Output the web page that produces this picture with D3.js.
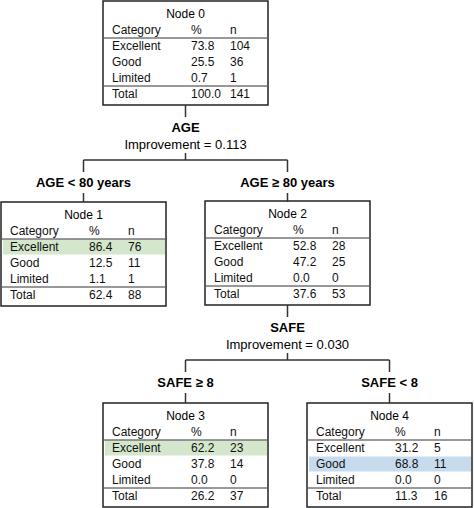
<!DOCTYPE html>
<html><head><meta charset="utf-8">
<script src="https://cdn.jsdelivr.net/npm/d3@7"></script>
<style>body{margin:0;background:#fff}text{font-family:"Liberation Sans",Arial,sans-serif}</style>
</head><body><svg id="c" width="474" height="508"></svg>
<script>
const categories = ["Excellent", "Good", "Limited"];
const nodeNames = ["Node 0", "Node 1", "Node 2", "Node 3", "Node 4"];
const pctValues = [[73.8, 25.5, 0.7], [86.4, 12.5, 1.1], [52.8, 47.2, 0.0], [62.2, 37.8, 0.0], [31.2, 68.8, 0.0]];
const nValues = [[104, 36, 1], [76, 11, 1], [28, 25, 0], [23, 14, 0], [5, 11, 0]];
const totalPct = ["100.0", "62.4", "37.6", "26.2", "11.3"];
const totalN = [141, 88, 53, 37, 16];
const highlight = [null, "Excellent", null, "Excellent", "Good"]; // predicted category
const splits = [
  {parent: 0, name: "AGE", improvement: "0.113", left: 1, right: 2, leftLabel: "AGE < 80 years", rightLabel: "AGE \u2265 80 years"},
  {parent: 2, name: "SAFE", improvement: "0.030", left: 3, right: 4, leftLabel: "SAFE \u2265 8", rightLabel: "SAFE < 8"}
];
const boxPos = [[103, 1], [1, 202], [205, 201], [103, 403], [307, 403]];
const W = 165, H = 104;

const svg = d3.select("#c");
const rowY = d3.scalePoint().domain(["title", "head", ...categories, "Total"]).range([13, 93]);
const colX = d3.scaleOrdinal().domain(["cat", "pct", "n"]).range([9, 88, 127]);

nodeNames.forEach((name, i) => {
  const [bx, by] = boxPos[i];
  const g = svg.append("g").attr("transform", `translate(${bx},${by})`);
  if (highlight[i]) {
    const y = rowY(highlight[i]);
    g.append("rect").attr("x", 2).attr("y", y - 7.5).attr("width", W - 3).attr("height", 15)
      .attr("fill", highlight[i] === "Good" ? "#c6dbee" : "#d4e6cb");
  }
  g.append("rect").attr("width", W).attr("height", H).attr("fill", "none").attr("stroke", "#222").attr("stroke-width", 1.5);
  [rowY("head") + 8, rowY("Limited") + 8].forEach(y =>
    g.append("line").attr("x1", 1).attr("x2", W - 1).attr("y1", y).attr("y2", y).attr("stroke", "#333"));
  const t = (x, y, s) => g.append("text").attr("x", x).attr("y", y).attr("dy", "0.35em").attr("font-size", 12).attr("fill", "#111").text(s);
  g.append("text").attr("x", W / 2).attr("y", rowY("title")).attr("dy", "0.35em").attr("text-anchor", "middle").attr("font-size", 12).text(name);
  t(colX("cat"), rowY("head"), "Category"); t(colX("pct"), rowY("head"), "%"); t(colX("n"), rowY("head"), "n");
  categories.forEach((c, k) => {
    t(colX("cat"), rowY(c), c);
    t(colX("pct"), rowY(c), pctValues[i][k].toFixed(1));
    t(colX("n"), rowY(c), nValues[i][k]);
  });
  t(colX("cat"), rowY("Total"), "Total"); t(colX("pct"), rowY("Total"), totalPct[i]); t(colX("n"), rowY("Total"), totalN[i]);
});

const cx = i => boxPos[i][0] + W / 2;
const line = (x1, y1, x2, y2) => svg.append("line").attr("x1", x1).attr("y1", y1).attr("x2", x2).attr("y2", y2).attr("stroke", "#333").attr("stroke-width", 1.5);
splits.forEach(s => {
  const px = cx(s.parent), top = boxPos[s.parent][1] + H;
  const lx = cx(s.left), rx = cx(s.right), ctop = boxPos[s.left][1];
  line(px, top, px, top + 12);
  svg.append("text").attr("x", px).attr("y", top + 22).attr("dy", "0.35em").attr("text-anchor", "middle").attr("font-size", 13).attr("font-weight", "bold").text(s.name);
  svg.append("text").attr("x", px).attr("y", top + 39).attr("dy", "0.35em").attr("text-anchor", "middle").attr("font-size", 13).text("Improvement = " + s.improvement);
  line(px, top + 48, px, top + 55);
  line(lx, top + 55, rx, top + 55);
  [[lx, s.leftLabel], [rx, s.rightLabel]].forEach(([x, lab]) => {
    line(x, top + 55, x, top + 67);
    svg.append("text").attr("x", x).attr("y", top + 77).attr("dy", "0.35em").attr("text-anchor", "middle").attr("font-size", 13).attr("font-weight", "bold").text(lab);
    line(x, top + 88, x, ctop);
  });
});
</script></body></html>
